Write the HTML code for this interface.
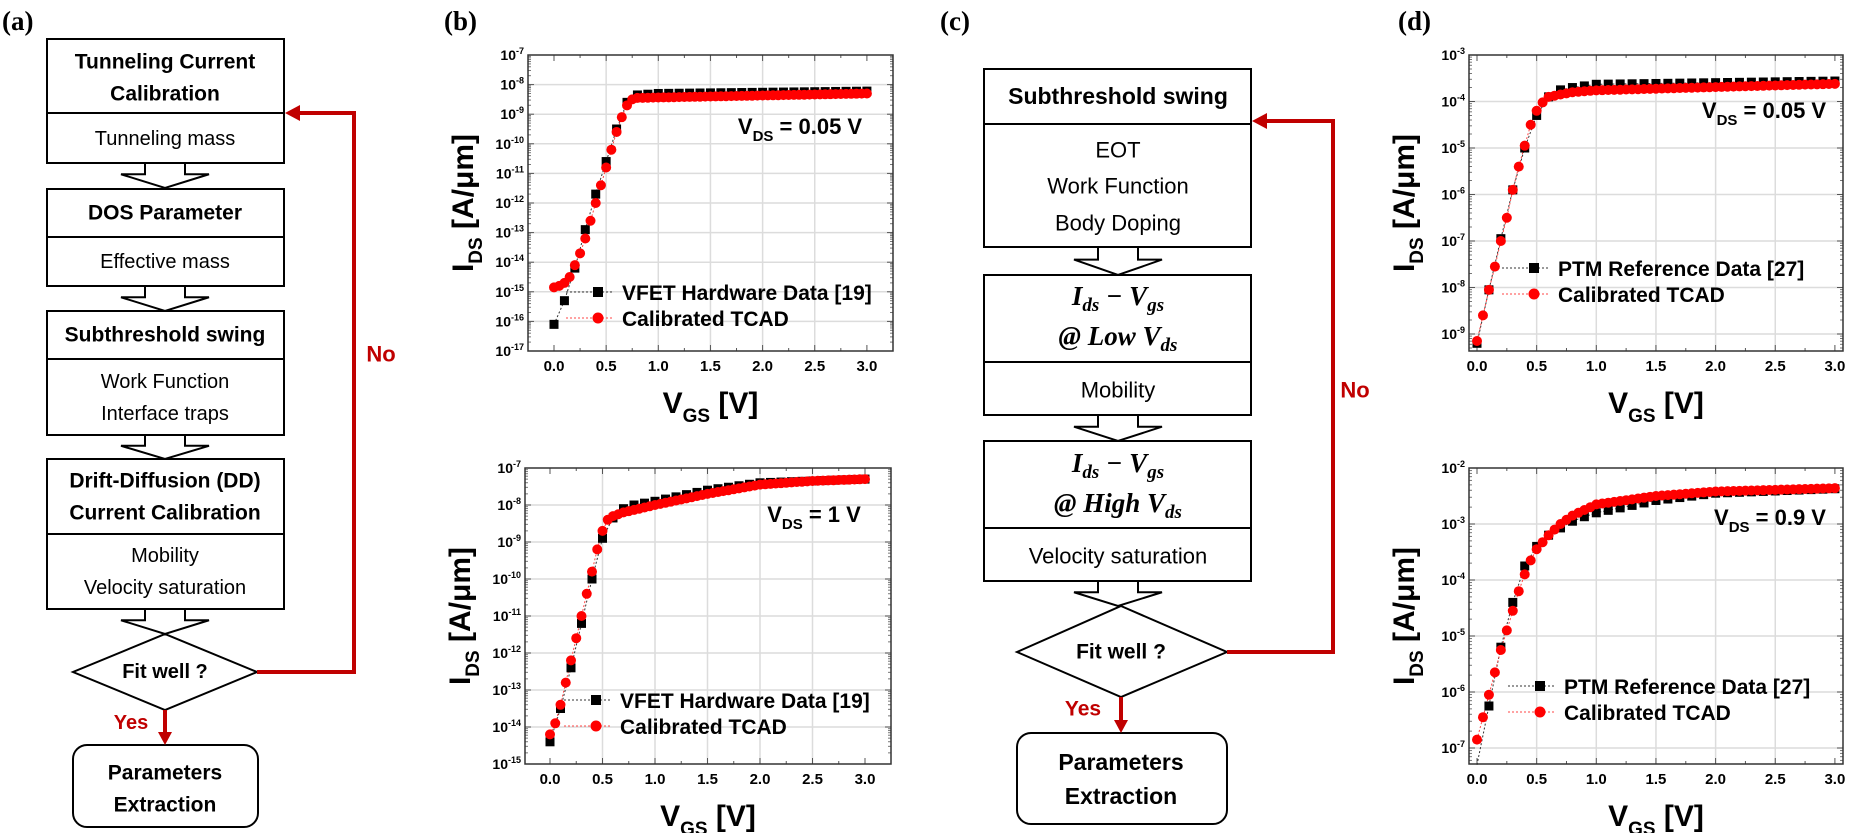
<!DOCTYPE html>
<html><head><meta charset="utf-8"><style>
html,body{margin:0;padding:0;background:#fff;}
svg{display:block;}
</style></head><body>
<svg id="s" width="1850" height="833" viewBox="0 0 1850 833" xmlns="http://www.w3.org/2000/svg" font-family="Liberation Sans, sans-serif">
<g font-family="Liberation Serif, serif" font-weight="bold" font-size="27">
<text x="2" y="30">(a)</text><text x="444" y="30">(b)</text><text x="940" y="30">(c)</text><text x="1398" y="30">(d)</text>
</g>
<g id="fa" stroke="#000" stroke-width="2" fill="#fff"></g>
<g id="plots"></g>
</svg>
<script>
var NS="http://www.w3.org/2000/svg";
function el(p,t,a,txt){var e=document.createElementNS(NS,t);for(var k in a)e.setAttribute(k,a[k]);if(txt!==undefined)e.textContent=txt;p.appendChild(e);return e;}
var S=document.getElementById('s');
var FA=document.getElementById('fa');
function rect(x,y,w,h,r){el(FA,'rect',{x:x,y:y,width:w,height:h,rx:r||0});}
function txt(x,y,s,sz,bold,fill){el(S,'text',{x:x,y:y,'text-anchor':'middle','dominant-baseline':'central','font-size':sz,'font-weight':bold?'bold':'normal',fill:fill||'#000'},s);}
function mtxt(x,y,parts){var t=el(S,'text',{x:x,y:y,'text-anchor':'middle','font-size':27,'font-weight':'bold','font-style':'italic','font-family':'Liberation Serif, serif'});
 parts.forEach(function(p){if(p[1])el(t,'tspan',{'font-size':19,dy:6},p[0]);else el(t,'tspan',{dy:p[2]||0},p[0]);});}
function arrow(cx,y0,y1){var m=y0+(y1-y0)*0.45;el(FA,'polygon',{points:[cx-20,y0,cx-20,m,cx-44,m,cx,y1,cx+44,m,cx+20,m,cx+20,y0].join(' ')});}
// Panel a
var ax=47,aw=237,acx=165;
rect(ax,39,aw,74);rect(ax,113,aw,50);
arrow(acx,163,188);
rect(ax,189,aw,48);rect(ax,237,aw,49);
arrow(acx,286,311);
rect(ax,311,aw,48);rect(ax,359,aw,76);
arrow(acx,435,459);
rect(ax,459,aw,75);rect(ax,534,aw,75);
arrow(acx,609,634);
el(FA,'polygon',{points:"165,634 257,672 165,710 73,672"});
rect(73,745,185,82,14);
txt(acx,62,"Tunneling Current",21,1);txt(acx,94,"Calibration",21,1);
txt(acx,139,"Tunneling mass",20);
txt(acx,213,"DOS Parameter",21,1);
txt(acx,262,"Effective mass",20);
txt(acx,335,"Subthreshold swing",21,1);
txt(acx,382,"Work Function",20);txt(acx,414,"Interface traps",20);
txt(acx,481,"Drift-Diffusion (DD)",21,1);txt(acx,513,"Current Calibration",21,1);
txt(acx,556,"Mobility",20);txt(acx,588,"Velocity saturation",20);
txt(acx,672,"Fit well ?",20,1);
txt(acx,773,"Parameters",21,1);txt(acx,805,"Extraction",21,1);
var R='#c00000';
el(S,'polyline',{points:"257,672 354,672 354,113 296,113",fill:'none',stroke:R,'stroke-width':4});
el(S,'polygon',{points:"285,113 300,105 300,121",fill:R});
txt(381,354,"No",22,1,R);
el(S,'line',{x1:165,y1:710,x2:165,y2:735,stroke:R,'stroke-width':4});
el(S,'polygon',{points:"165,745 158,732 172,732",fill:R});
txt(131,723,"Yes",20,1,R);
// Panel c
var cx0=984,cw=267,ccx=1118;
rect(cx0,69,cw,55);rect(cx0,124,cw,123);
arrow(ccx,247,275);
rect(cx0,275,cw,87);rect(cx0,362,cw,53);
arrow(ccx,415,441);
rect(cx0,441,cw,87);rect(cx0,528,cw,53);
arrow(ccx,581,606);
el(FA,'polygon',{points:"1121,606 1227,652 1121,697 1017,652"});
rect(1017,733,210,91,14);
txt(ccx,96,"Subthreshold swing",23,1);
txt(ccx,150,"EOT",22);txt(ccx,186,"Work Function",22);txt(ccx,223,"Body Doping",22);
mtxt(ccx,305,[["I"],["ds",1],[" \u2212 V",0,-6],["gs",1]]);
mtxt(ccx,345,[["@ Low V"],["ds",1]]);
txt(ccx,390,"Mobility",22);
mtxt(ccx,472,[["I"],["ds",1],[" \u2212 V",0,-6],["gs",1]]);
mtxt(ccx,512,[["@ High V"],["ds",1]]);
txt(ccx,556,"Velocity saturation",22);
txt(1121,652,"Fit well ?",21,1);
txt(1121,762,"Parameters",23,1);txt(1121,796,"Extraction",23,1);
el(S,'polyline',{points:"1227,652 1333,652 1333,121 1264,121",fill:'none',stroke:R,'stroke-width':4});
el(S,'polygon',{points:"1252,121 1267,113 1267,129",fill:R});
txt(1355,390,"No",22,1,R);
el(S,'line',{x1:1121,y1:697,x2:1121,y2:723,stroke:R,'stroke-width':4});
el(S,'polygon',{points:"1121,733 1114,720 1128,720",fill:R});
txt(1083,709,"Yes",21,1,R);

// Plots
var P=document.getElementById('plots');
function interp(k,x){for(var i=0;i<k.length-1;i++){if(x<=k[i+1][0]){var t=(x-k[i][0])/(k[i+1][0]-k[i][0]);return k[i][1]+t*(k[i+1][1]-k[i][1]);}}return k[k.length-1][1];}
function plot(c){
 var X=function(v){return c.x0+v*c.k;},Y=function(e){return c.T+(c.et-e)*c.pd;};
 var eb=c.et-(c.B-c.T)/c.pd;
 for(var v=0.5;v<3;v+=0.5)el(P,'line',{x1:X(v),x2:X(v),y1:c.T,y2:c.B,stroke:'#dcdcdc','stroke-width':1.5});
 for(var e=c.et-1;e>eb;e--)el(P,'line',{x1:c.L,x2:c.R,y1:Y(e),y2:Y(e),stroke:'#dcdcdc','stroke-width':1.5});
 for(var v=0;v<=3.01;v+=0.25){var mj=Math.abs(v*2-Math.round(v*2))<0.01;var l=mj?6:3;
  el(P,'line',{x1:X(v),x2:X(v),y1:c.B,y2:c.B-l,stroke:'#555'});el(P,'line',{x1:X(v),x2:X(v),y1:c.T,y2:c.T+l,stroke:'#555'});
  if(mj)el(P,'text',{x:X(v),y:c.B+20,'text-anchor':'middle','font-size':15,'font-weight':'bold'},v.toFixed(1));}
 for(var e=c.et;e>=Math.floor(eb);e--){
  if(Y(e)<=c.B+0.5){el(P,'line',{x1:c.L,x2:c.L+6,y1:Y(e),y2:Y(e),stroke:'#555'});el(P,'line',{x1:c.R,x2:c.R-6,y1:Y(e),y2:Y(e),stroke:'#555'});
   var t=el(P,'text',{x:c.L-4,y:Y(e)+5,'text-anchor':'end','font-size':14,'font-weight':'bold'});
   el(t,'tspan',{},'10');el(t,'tspan',{dy:-6,'font-size':9},String(e));}
  for(var m=2;m<10;m++){var yy=Y(e-1+Math.log10(m));if(yy>c.T&&yy<c.B){el(P,'line',{x1:c.L,x2:c.L+3,y1:yy,y2:yy,stroke:'#777'});el(P,'line',{x1:c.R,x2:c.R-3,y1:yy,y2:yy,stroke:'#777'});}}
 }
 el(P,'rect',{x:c.L,y:c.T,width:c.R-c.L,height:c.B-c.T,fill:'none',stroke:'#333','stroke-width':1.5});
 var rp=[],bp=[];
 for(var v=0;v<=3.001;v+=0.05)rp.push([X(v),Y(interp(c.red,v))]);
 for(var v=0;v<=3.001;v+=0.1)bp.push([X(v),Y(interp(c.blk,v))]);
 el(P,'polyline',{points:bp.map(function(p){return p.join(',')}).join(' '),fill:'none',stroke:'#333','stroke-dasharray':'2,2'});
 el(P,'polyline',{points:rp.map(function(p){return p.join(',')}).join(' '),fill:'none',stroke:'#f44','stroke-dasharray':'2,2'});
 bp.forEach(function(p){if(p[1]<=c.B)el(P,'rect',{x:p[0]-4.5,y:p[1]-4.5,width:9,height:9,fill:'#000'});});
 rp.forEach(function(p){if(p[1]<=c.B)el(P,'circle',{cx:p[0],cy:p[1],r:5,fill:'#f00'});});
 var lx=c.lx,ly=c.ly;
 el(P,'line',{x1:lx-32,x2:lx+14,y1:ly,y2:ly,stroke:'#333','stroke-dasharray':'2,2'});
 el(P,'rect',{x:lx-5,y:ly-5,width:10,height:10,fill:'#000'});
 el(P,'line',{x1:lx-32,x2:lx+14,y1:ly+26,y2:ly+26,stroke:'#f44','stroke-dasharray':'2,2'});
 el(P,'circle',{cx:lx,cy:ly+26,r:5.5,fill:'#f00'});
 el(P,'text',{x:lx+24,y:ly+8,'font-size':21,'font-weight':'bold'},c.l1);
 el(P,'text',{x:lx+24,y:ly+34,'font-size':21,'font-weight':'bold'},c.l2);
 var t=el(P,'text',{x:c.vx,y:c.vy,'text-anchor':'middle','font-size':22,'font-weight':'bold'});
 el(t,'tspan',{},'V');el(t,'tspan',{dy:7,'font-size':15},'DS');el(t,'tspan',{dy:-7},' = '+c.vds+' V');
 var xm=(c.L+c.R)/2;
 t=el(P,'text',{x:xm,y:c.B+62,'text-anchor':'middle','font-size':30,'font-weight':'bold'});
 el(t,'tspan',{},'V');el(t,'tspan',{dy:9,'font-size':19},'GS');el(t,'tspan',{dy:-9},' [V]');
 var ym=(c.T+c.B)/2;
 t=el(P,'text',{x:0,y:0,'text-anchor':'middle','font-size':30,'font-weight':'bold',transform:'translate('+(c.L-55)+','+ym+') rotate(-90)'});
 el(t,'tspan',{},'I');el(t,'tspan',{dy:9,'font-size':19},'DS');el(t,'tspan',{dy:-9},' [A/\u03bcm]');
}
plot({L:528,R:893,T:55,B:351,x0:554,k:104.3,et:-7,pd:29.6,
 red:[[0,-14.85],[0.05,-14.8],[0.1,-14.7],[0.15,-14.5],[0.2,-14.1],[0.25,-13.7],[0.3,-13.2],[0.35,-12.6],[0.4,-12.0],[0.45,-11.4],[0.5,-10.8],[0.55,-10.2],[0.6,-9.6],[0.65,-9.1],[0.7,-8.7],[0.75,-8.5],[0.8,-8.45],[3,-8.3]],
 blk:[[0,-16.1],[0.1,-15.3],[0.2,-14.2],[0.3,-12.9],[0.4,-11.7],[0.5,-10.6],[0.6,-9.5],[0.7,-8.6],[0.8,-8.35],[1.0,-8.3],[3,-8.22]],
 lx:598,ly:292,l1:'VFET Hardware Data [19]',l2:'Calibrated TCAD',vx:800,vy:134,vds:'0.05'});
plot({L:525,R:891,T:468,B:764,x0:550,k:105,et:-7,pd:37,
 red:[[0,-14.2],[0.05,-13.9],[0.1,-13.4],[0.15,-12.8],[0.2,-12.2],[0.25,-11.6],[0.3,-11.0],[0.35,-10.4],[0.4,-9.8],[0.45,-9.2],[0.5,-8.7],[0.55,-8.4],[0.6,-8.3],[0.7,-8.2],[1.0,-8.0],[1.5,-7.7],[2.0,-7.45],[2.5,-7.35],[3,-7.3]],
 blk:[[0,-14.4],[0.1,-13.5],[0.2,-12.4],[0.3,-11.2],[0.4,-10.0],[0.5,-8.9],[0.6,-8.35],[0.7,-8.1],[0.8,-8.0],[1.0,-7.9],[1.5,-7.6],[2.0,-7.4],[3,-7.3]],
 lx:596,ly:700,l1:'VFET Hardware Data [19]',l2:'Calibrated TCAD',vx:814,vy:522,vds:'1'});
plot({L:1469,R:1843,T:55,B:351,x0:1477,k:119.3,et:-3,pd:46.5,
 red:[[0,-9.15],[0.05,-8.6],[0.1,-8.05],[0.15,-7.55],[0.2,-7.0],[0.25,-6.5],[0.3,-5.9],[0.35,-5.4],[0.4,-4.95],[0.45,-4.5],[0.5,-4.2],[0.55,-4.02],[0.6,-3.9],[0.8,-3.8],[1.0,-3.76],[3,-3.62]],
 blk:[[0,-9.2],[0.1,-8.05],[0.2,-6.95],[0.3,-5.9],[0.4,-5.0],[0.5,-4.3],[0.6,-3.9],[0.7,-3.75],[0.8,-3.7],[1.0,-3.63],[3,-3.56]],
 lx:1534,ly:268,l1:'PTM Reference Data [27]',l2:'Calibrated TCAD',vx:1764,vy:118,vds:'0.05'});
plot({L:1469,R:1843,T:468,B:764,x0:1477,k:119.3,et:-2,pd:56,
 red:[[0,-6.85],[0.05,-6.45],[0.1,-6.05],[0.15,-5.65],[0.2,-5.25],[0.25,-4.9],[0.3,-4.55],[0.35,-4.2],[0.4,-3.9],[0.45,-3.65],[0.5,-3.45],[0.6,-3.2],[0.7,-3.0],[0.8,-2.85],[1.0,-2.65],[1.5,-2.5],[2.0,-2.42],[3,-2.36]],
 blk:[[0,-7.3],[0.1,-6.25],[0.2,-5.2],[0.3,-4.4],[0.4,-3.75],[0.5,-3.4],[0.6,-3.2],[0.7,-3.07],[0.8,-2.95],[0.9,-2.87],[1.0,-2.8],[1.5,-2.58],[2.0,-2.45],[3,-2.37]],
 lx:1540,ly:686,l1:'PTM Reference Data [27]',l2:'Calibrated TCAD',vx:1770,vy:525,vds:'0.9'});
</script>
</body></html>
